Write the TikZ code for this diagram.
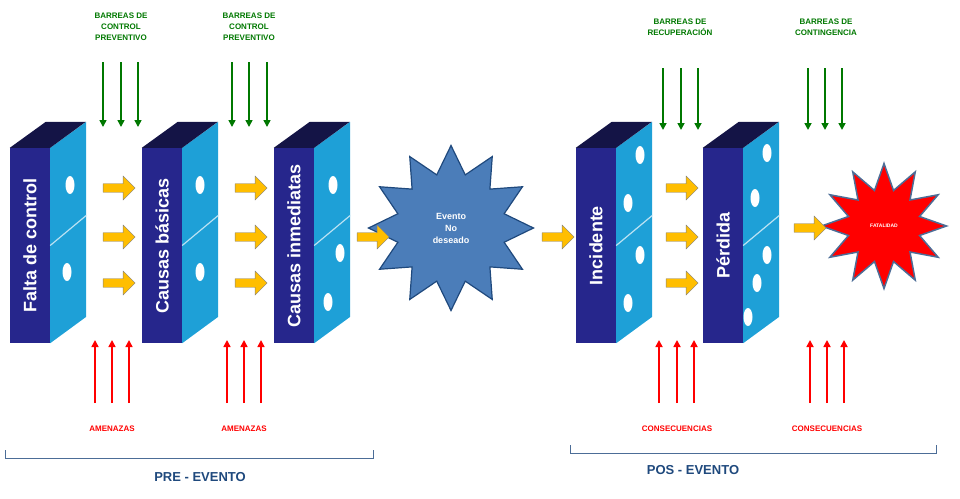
\documentclass[tikz,border=0pt]{standalone}
\usepackage{fontspec}
\setmainfont{Liberation Sans}
\usepackage{tikz}
\usetikzlibrary{arrows.meta,shapes.arrows,shapes.geometric}
\definecolor{frontc}{RGB}{38,38,140}
\definecolor{sidec}{RGB}{30,160,215}
\definecolor{topc}{RGB}{20,20,70}
\definecolor{goldc}{RGB}{255,190,0}
\definecolor{barc}{RGB}{0,120,0}
\definecolor{titc}{RGB}{31,73,125}
\definecolor{starc}{RGB}{75,125,185}
\tikzset{
	front/.style={fill=frontc,minimum width=40,minimum height=195,inner sep=0},
	push/.style={single arrow,fill=goldc,draw=gray,minimum height=32,minimum width=24,single arrow head extend=4,single arrow head indent=0,inner sep=2},
	down/.style={-{Triangle[length=7,width=7]},barc,line width=1.6},
	up/.style={-{Triangle[length=7,width=7]},red,line width=1.6},
	bar/.style={barc,font=\bfseries\fontsize{8}{11}\selectfont,align=center},
	risk/.style={red,font=\bfseries\fontsize{8}{9}\selectfont},
	phase/.style={titc,font=\bfseries\fontsize{13}{14}\selectfont}
}
% name, left x, label, dots (dx/y)
\newcommand{\domino}[4]{%
	\node[front] (#1) at (#2+20,245.5) {};
	\fill[sidec] (#1.north east) -- ++(36,-26) -- ++(0,195) -- (#1.south east) -- cycle;
	\fill[topc] (#1.north west) -- ++(36,-26) -- ++(40,0) -- (#1.north east) -- cycle;
	\draw[white!70!sidec,line width=1.2] (#1.east) -- ++(36,-30);
	\foreach \dx/\dy in {#4} \fill[white] (#2+\dx,\dy) ellipse (4.5 and 9);
	\node[white,rotate=90,font=\bfseries\fontsize{18}{18}\selectfont] at (#1) {#3};
}
\begin{document}
\begin{tikzpicture}[x=1pt,y=-1pt]
	\useasboundingbox (0,0) rectangle (960,498);
	\domino{falta}{10}{Falta de control}{60/185,57/272}
	\domino{basicas}{142}{Causas básicas}{58/185,58/272}
	\domino{inmed}{274}{Causas inmediatas}{59/185,66/253,54/302}
	\domino{incid}{576}{Incidente}{64/155,52/203,64/255,52/303}
	\domino{perdida}{703}{Pérdida}{64/153,52/198,64/255,54/283,45/317}
	% stars
	\node[star,star points=12,star point ratio=1.5,minimum size=165,fill=starc,draw=titc,line width=1.2,
		text=white,font=\bfseries\fontsize{9}{12}\selectfont,align=center] (evento) at (451,228) {Evento\\No\\deseado};
	\node[star,star points=12,star point ratio=1.7,minimum size=125,fill=red,draw=titc!80,line width=1.5,
		text=white,font=\bfseries\fontsize{5}{6}\selectfont] (fatal) at (884,226) {FATALIDAD};
	% yellow arrows
	\foreach \x in {117,249,680} \foreach \y in {188,237,283} \node[push] at (\x,\y) {};
	\node[push] (a1) at (371,237) {};
	\node[push] (a2) at (556,237) {};
	\node[push] (a3) at (808,228) {};
	% barriers and threats
	\foreach \x/\t/\b in {103/62/127,121/62/127,138/62/127,232/62/127,249/62/127,267/62/127,663/68/130,681/68/130,698/68/130,808/68/130,825/68/130,842/68/130}
		\draw[down] (\x,\t) -- (\x,\b);
	\foreach \x in {95,112,129,227,244,261,659,677,694,810,827,844}
		\draw[up] (\x,403) -- (\x,340);
	\node[bar] at (121,27) {BARREAS DE\\CONTROL\\PREVENTIVO};
	\node[bar] at (249,27) {BARREAS DE\\CONTROL\\PREVENTIVO};
	\node[bar] at (680,27) {BARREAS DE\\RECUPERACIÓN};
	\node[bar] at (826,27) {BARREAS DE\\CONTINGENCIA};
	\node[risk] at (112,429) {AMENAZAS};
	\node[risk] at (244,429) {AMENAZAS};
	\node[risk] at (677,429) {CONSECUENCIAS};
	\node[risk] at (827,429) {CONSECUENCIAS};
	% phases
	\draw[titc!80] (5,450) -- (5,458) -- (373,458) -- (373,450);
	\draw[titc!80] (570,445) -- (570,453) -- (936,453) -- (936,445);
	\node[phase] at (200,477) {PRE - EVENTO};
	\node[phase] at (693,470) {POS - EVENTO};
\end{tikzpicture}
\end{document}
